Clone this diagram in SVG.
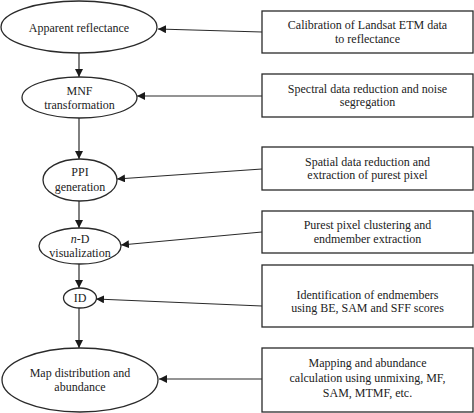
<svg xmlns="http://www.w3.org/2000/svg" width="474" height="413" viewBox="0 0 474 413">
<style>
.n{fill:#fff;stroke:#2a2a2a;stroke-width:1.3}
.t{font-family:"Liberation Serif","Times New Roman",serif;font-size:12px;fill:#222;text-anchor:middle}
.c{fill:none;stroke:#2a2a2a;stroke-width:1.2;marker-end:url(#ah)}
</style>
<defs>
<marker id="ah" viewBox="0 0 10 10" refX="10" refY="5" markerWidth="8" markerHeight="8" markerUnits="userSpaceOnUse" orient="auto">
<path d="M0,0 L10,5 L0,10 z" fill="#1a1a1a"/>
</marker>
</defs>
<rect width="474" height="413" fill="#fff"/>
<g id="connectors">
<path class="c" d="M79,53 V77"/>
<path class="c" d="M79,118 V159"/>
<path class="c" d="M79,201 V228"/>
<path class="c" d="M79,264 V288"/>
<path class="c" d="M79,308 V348"/>
<path class="c" d="M262,32 L158,29"/>
<path class="c" d="M262,96 L137,96"/>
<path class="c" d="M262,169 L117,179"/>
<path class="c" d="M262,232 L121,245"/>
<path class="c" d="M262,306 L96,299"/>
<path class="c" d="M262,379 L159,379"/>
</g>
<g id="e1"><ellipse class="n" cx="79" cy="27" rx="78" ry="26"/><text class="t" x="79" y="32">Apparent reflectance</text></g>
<g id="e2"><ellipse class="n" cx="79.5" cy="97.5" rx="57.5" ry="20.5"/><text class="t" x="79.5" y="95">MNF</text><text class="t" x="79.5" y="109">transformation</text></g>
<g id="e3"><ellipse class="n" cx="80" cy="180" rx="37" ry="21"/><text class="t" x="80" y="176">PPI</text><text class="t" x="80" y="191">generation</text></g>
<g id="e4"><ellipse class="n" cx="80" cy="246" rx="41" ry="18"/><text class="t" x="80" y="243"><tspan font-style="italic">n</tspan>-D</text><text class="t" x="80" y="257">visualization</text></g>
<g id="e5"><ellipse class="n" cx="80" cy="298" rx="16.5" ry="10"/><text class="t" x="80" y="302">ID</text></g>
<g id="e6"><ellipse class="n" cx="80" cy="380" rx="78" ry="32"/><text class="t" x="80" y="377">Map distribution and</text><text class="t" x="80" y="391">abundance</text></g>
<g id="b1"><rect class="n" x="262" y="11" width="211" height="42"/><text class="t" x="367.5" y="29">Calibration of Landsat ETM data</text><text class="t" x="367.5" y="43">to reflectance</text></g>
<g id="b2"><rect class="n" x="262" y="74" width="211" height="43"/><text class="t" x="367.5" y="93">Spectral data reduction and noise</text><text class="t" x="367.5" y="106">segregation</text></g>
<g id="b3"><rect class="n" x="262" y="147" width="211" height="43"/><text class="t" x="367.5" y="166">Spatial data reduction and</text><text class="t" x="367.5" y="179">extraction of purest pixel</text></g>
<g id="b4"><rect class="n" x="262" y="211" width="211" height="42"/><text class="t" x="367.5" y="229">Purest pixel clustering and</text><text class="t" x="367.5" y="243">endmember extraction</text></g>
<g id="b5"><rect class="n" x="262" y="265" width="211" height="62"/><text class="t" x="367.5" y="299">Identification of endmembers</text><text class="t" x="367.5" y="312">using BE, SAM and SFF scores</text></g>
<g id="b6"><rect class="n" x="262" y="348" width="211" height="64"/><text class="t" x="367.5" y="367">Mapping and abundance</text><text class="t" x="367.5" y="382">calculation using unmixing, MF,</text><text class="t" x="367.5" y="397">SAM, MTMF, etc.</text></g>
</svg>
